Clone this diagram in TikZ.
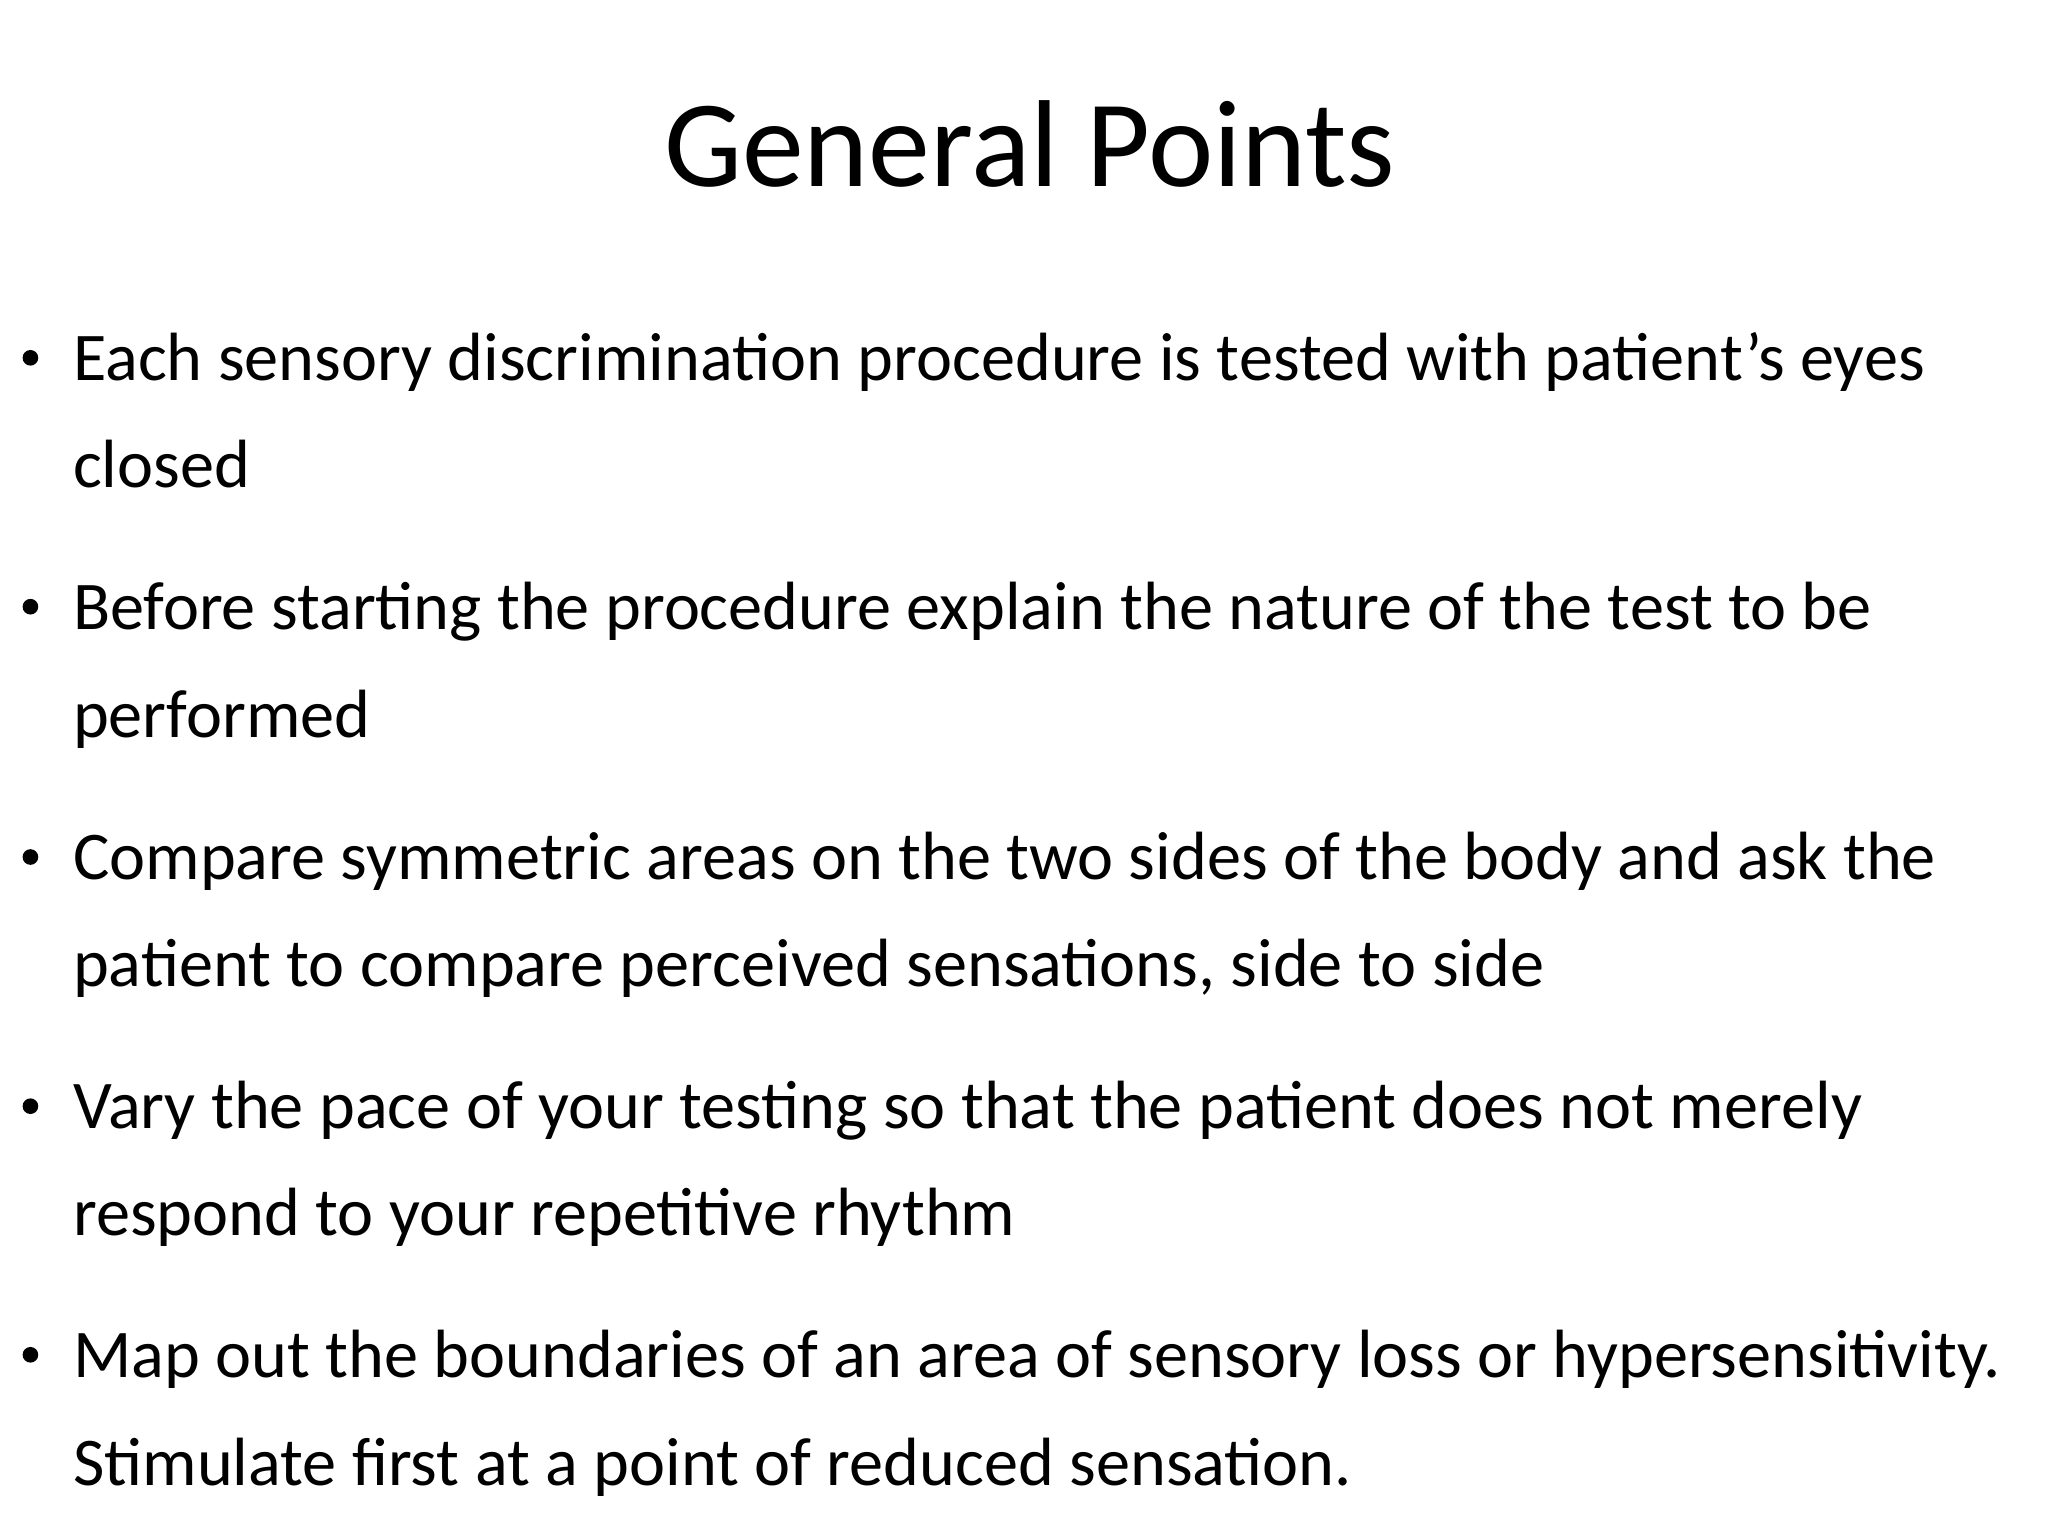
\documentclass[tikz,border=0pt]{standalone}
\usepackage{fontspec}
\setmainfont{Carlito}
\begin{document}
\begin{tikzpicture}[x=1pt,y=1pt,
  line/.style={anchor=base west,inner sep=0pt,font=\fontsize{24}{29}\selectfont},
  dot/.style={circle,fill=black,inner sep=0pt,minimum size=5.5pt}]
\useasboundingbox (0,0) rectangle (720,540);
\node[anchor=base,inner sep=0pt,font=\fontsize{43.5}{50}\selectfont] (title) at (362,474.5) {General Points};
\foreach \i/\y/\t/\b in {
 1/133.8/{Each sensory discrimination procedure is tested with patient’s eyes}/1,
 2/171.3/{closed}/0,
 3/221.3/{Before starting the procedure explain the nature of the test to be}/1,
 4/259.3/{performed}/0,
 5/309.3/{Compare symmetric areas on the two sides of the body and ask the}/1,
 6/346.8/{patient to compare perceived sensations, side to side}/0,
 7/396.9/{Vary the pace of your testing so that the patient does not merely}/1,
 8/434.3/{respond to your repetitive rhythm}/0,
 9/484.3/{Map out the boundaries of an area of sensory loss or hypersensitivity.}/1,
 10/522.3/{Stimulate first at a point of reduced sensation.}/0}{
  \node[line] (l\i) at (25.5,540-\y) {\t};
  \ifnum\b=1 \node[dot] (b\i) at (10.7,540-\y+8) {};\fi
}
\end{tikzpicture}
\end{document}
